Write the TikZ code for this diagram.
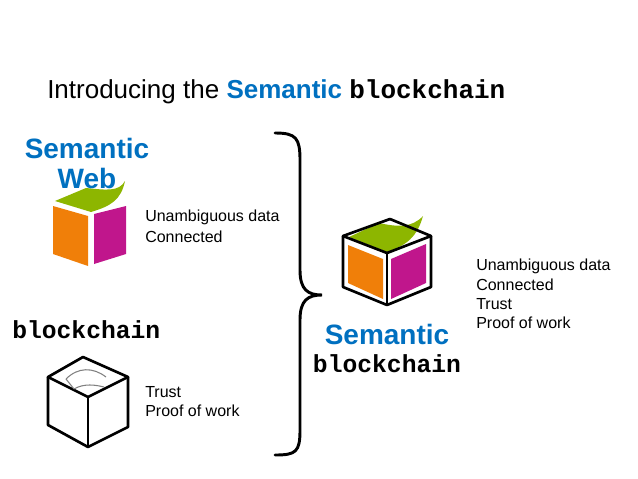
\documentclass[tikz,border=0pt]{standalone}
\usepackage{fontspec}
\setmainfont{Liberation Sans}
\newfontfamily\codefont{Liberation Mono}
\usetikzlibrary{calc}
\definecolor{semblue}{RGB}{0,112,192}
\definecolor{cubeorange}{RGB}{240,127,9}
\definecolor{cubemagenta}{RGB}{192,22,140}
\definecolor{cubegreen}{RGB}{141,182,0}

\begin{document}
\begin{tikzpicture}[x=0.75pt,y=-0.75pt]
    \tikzset{
        every node/.style={inner sep=0pt},
        item/.style={font=\fontsize{12}{14}\selectfont, anchor=west},
        sem/.style={font=\fontsize{21}{24}\selectfont\bfseries, text=semblue},
        code/.style={font=\fontsize{18.5}{22}\selectfont\codefont\bfseries},
        edge/.style={line width=2pt, line join=round}
    }
    \useasboundingbox (0,0) rectangle (638,478);

    % 1. title
    \node[anchor=west, font=\fontsize{19.5}{22}\selectfont] (title) at (47,92)
        {Introducing the \textcolor{semblue}{\bfseries Semantic} {\codefont\bfseries blockchain}};

    % 2. Semantic Web cube (no outline, coloured faces)
    \coordinate (W) at (91,214);
    \fill[cubeorange] ($(W)+(-3,2)$) -- ($(W)+(-38,-8)$) -- ($(W)+(-38,40)$) -- ($(W)+(-3,52)$) -- cycle;
    \fill[cubemagenta] ($(W)+(3,0)$) -- ($(W)+(35,-8)$) -- ($(W)+(35,40)$) -- ($(W)+(3,50)$) -- cycle;
    \fill[cubegreen] ($(W)+(0,-2)$) -- ($(W)+(-36,-13)$) -- ($(W)+(-5,-26)$)
        .. controls ($(W)+(15,-24)$) and ($(W)+(28,-22)$) .. ($(W)+(34,-33)$)
        .. controls ($(W)+(30,-14)$) and ($(W)+(20,-8)$) .. cycle;
    \node[sem] (semweb) at (87,148) {Semantic};
    \node[sem] (web) at (87,178) {Web};
    \node[item] (una) at (145,217) {Unambiguous data};
    \node[item] (con) at (145,237) {Connected};

    % 3. blockchain cube (outline only)
    \coordinate (B) at (88,397);
    \draw[edge] (B) -- ($(B)+(-40,-20)$) -- ($(B)+(-5,-40)$) -- ($(B)+(40,-20)$) -- cycle;
    \draw[edge] ($(B)+(-40,-20)$) -- ($(B)+(-40,28)$) -- ($(B)+(0,50)$) -- ($(B)+(40,30)$) -- ($(B)+(40,-20)$);
    \draw[edge] (B) -- ($(B)+(0,50)$);
    % handshake hint
    \draw[gray, line width=0.8pt] ($(B)+(-22,-18)$) .. controls ($(B)+(-10,-30)$) and ($(B)+(5,-30)$) .. ($(B)+(18,-20)$)
        ($(B)+(-14,-8)$) .. controls ($(B)+(-4,-14)$) and ($(B)+(8,-12)$) .. ($(B)+(16,-10)$)
        ($(B)+(-14,-8)$) -- ($(B)+(-22,-18)$);
    \node[code, anchor=west] (chain) at (12,330) {blockchain};
    \node[item] (trust) at (145,392) {Trust};
    \node[item] (pow) at (145,411) {Proof of work};

    % 4. brace
    \draw[line width=2.2pt, line cap=round] (275,133) .. controls (296,133) and (300,138) .. (300,160)
        -- (300,270) .. controls (300,290) and (308,295) .. (322,295)
        .. controls (308,295) and (300,300) .. (300,320)
        -- (300,430) .. controls (300,452) and (296,455) .. (275,455);

    % 5. Semantic blockchain cube
    \coordinate (S) at (387,253);
    \fill[cubeorange] ($(S)+(-4,6)$) -- ($(S)+(-39,-8)$) -- ($(S)+(-39,30)$) -- ($(S)+(-4,46)$) -- cycle;
    \fill[cubemagenta] ($(S)+(4,6)$) -- ($(S)+(39,-9)$) -- ($(S)+(39,30)$) -- ($(S)+(4,46)$) -- cycle;
    \fill[cubegreen] ($(S)+(0,-1)$) -- ($(S)+(-38,-16)$) -- ($(S)+(-8,-30)$)
        .. controls ($(S)+(10,-26)$) and ($(S)+(25,-25)$) .. ($(S)+(36,-37)$)
        .. controls ($(S)+(30,-16)$) and ($(S)+(20,-8)$) .. cycle;
    \draw[edge] (S) -- ($(S)+(-44,-17)$) -- ($(S)+(3,-34)$) -- ($(S)+(44,-17)$) -- cycle;
    \draw[edge] ($(S)+(-44,-17)$) -- ($(S)+(-44,34)$) -- ($(S)+(0,52)$) -- ($(S)+(44,34)$) -- ($(S)+(44,-17)$);
    \draw[edge] (S) -- ($(S)+(0,52)$);
    \node[sem] (sembc) at (387,334) {Semantic};
    \node[code] (bc) at (387,364) {blockchain};

    % 6. combined list
    \node[item] (una2) at (476,266) {Unambiguous data};
    \node[item] (con2) at (476,285) {Connected};
    \node[item] (trust2) at (476,304) {Trust};
    \node[item] (pow2) at (476,323) {Proof of work};
\end{tikzpicture}
\end{document}
